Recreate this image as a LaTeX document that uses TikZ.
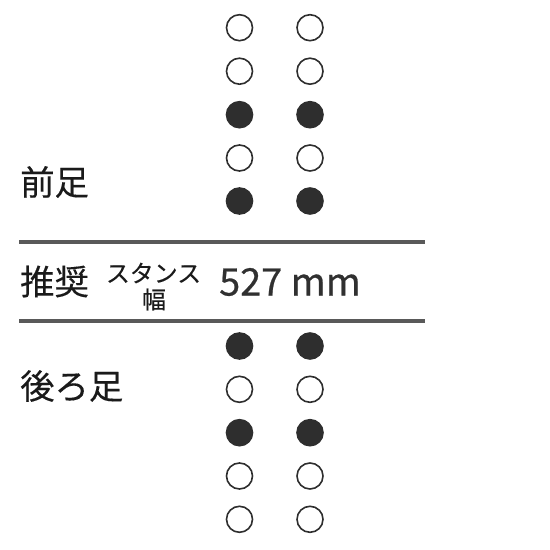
\documentclass[tikz,border=0pt]{standalone}
\usepackage{fontspec}
\setmainfont{Noto Sans CJK JP}
\newfontfamily\heavyfont{Noto Sans CJK JP}[FakeBold=0.6]
\newfontfamily\cjkfont{Noto Sans CJK JP}[FakeBold=0.25]
\definecolor{ink}{HTML}{1A1A1A}
\definecolor{dot}{HTML}{2E2E2E}
\definecolor{rule}{HTML}{595959}
\definecolor{num}{HTML}{303030}
\begin{document}
\begin{tikzpicture}[x=1bp,y=-1bp,
  hole/.style={circle,draw=dot,line width=1.6bp,minimum size=26bp,inner sep=0pt},
  holeon/.style={hole,fill=dot},
  big/.style={inner sep=0pt,text=ink,font=\cjkfont\fontsize{34.5}{34.5}\selectfont},
  small/.style={inner sep=0pt,text=ink,font=\cjkfont\fontsize{24}{24}\selectfont},
  sep/.style={draw=rule,line width=4bp}]
\useasboundingbox (0,0) rectangle (550,550);
% front holes
\node[hole]   (f1a) at (239.5,27.7) {};
\node[hole]   (f1b) at (310,27.7) {};
\node[hole]   (f2a) at (239.5,71.2) {};
\node[hole]   (f2b) at (310,71.2) {};
\node[holeon] (f3a) at (239.5,114.7) {};
\node[holeon] (f3b) at (310,114.7) {};
\node[hole]   (f4a) at (239.5,158) {};
\node[hole]   (f4b) at (310,158) {};
\node[holeon] (f5a) at (239.5,201) {};
\node[holeon] (f5b) at (310,201) {};
% rear holes
\node[holeon] (r1a) at (239.5,346) {};
\node[holeon] (r1b) at (310,346) {};
\node[hole]   (r2a) at (239.5,389.3) {};
\node[hole]   (r2b) at (310,389.3) {};
\node[holeon] (r3a) at (239.5,432.7) {};
\node[holeon] (r3b) at (310,432.7) {};
\node[hole]   (r4a) at (239.5,476) {};
\node[hole]   (r4b) at (310,476) {};
\node[hole]   (r5a) at (239.5,519.3) {};
\node[hole]   (r5b) at (310,519.3) {};
% separator lines
\coordinate (t1) at (19,242);
\coordinate (t2) at (425,242);
\coordinate (b1) at (19,321);
\coordinate (b2) at (425,321);
\draw[sep] (t1) -- (t2);
\draw[sep] (b1) -- (b2);
% labels
\node[big,anchor=west] (front) at (20,182) {前足};
\node[big,anchor=west] (rec) at (20,281.5) {推奨};
\node[big,anchor=west] (rear) at (20,386) {後ろ足};
\node[small] (stance) at (153.5,273) {スタンス};
\node[small] (width) at (154,299.5) {幅};
\node[inner sep=0pt,anchor=base west,text=num,font=\heavyfont\fontsize{38}{38}\selectfont] (val) at (219,295.5) {527 mm};
\end{tikzpicture}
\end{document}
